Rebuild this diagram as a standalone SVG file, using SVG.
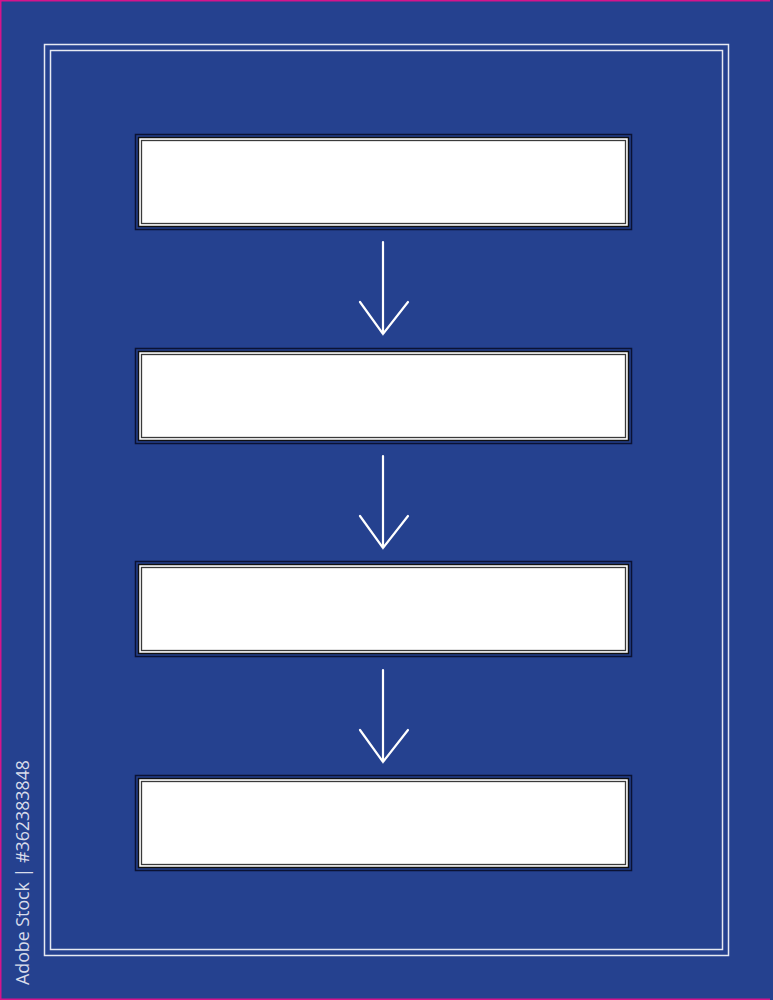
<svg xmlns="http://www.w3.org/2000/svg" width="773" height="1000" viewBox="0 0 773 1000">
<defs>
<style>
.frame{fill:none;stroke:#e6e9f2;stroke-width:1.5}
.b-out{fill:none;stroke:#0b1233;stroke-width:1.5}
.b-mid{fill:#ffffff;stroke:#101010;stroke-width:1.5}
.b-in{fill:#ffffff;stroke:#3a3a3a;stroke-width:1.3}
.arr{fill:none;stroke:#ffffff;stroke-width:2.2;stroke-linecap:round;stroke-linejoin:miter}
.id{font-family:"Open Sans","Liberation Sans",sans-serif;font-size:18px;fill:#d8dcea}
</style>
</defs>
<rect x="0" y="0" width="773" height="1000" fill="#25418f"/>
<path d="M0.75,1000 V0.75 H770 M0,999.25 H770" fill="none" stroke="#d4148c" stroke-width="1.5"/>
<g id="frame">
<rect class="frame" x="44.5" y="44.5" width="684" height="911"/>
<rect class="frame" x="50.5" y="50.5" width="672" height="899"/>
</g>
<g id="node1">
<rect class="b-out" x="135.5" y="134.5" width="496" height="95"/>
<rect class="b-mid" x="138.5" y="137.5" width="490" height="89"/>
<rect class="b-in" x="141.5" y="140.5" width="484" height="83"/>
</g>
<g id="node2">
<rect class="b-out" x="135.5" y="348.5" width="496" height="95"/>
<rect class="b-mid" x="138.5" y="351.5" width="490" height="89"/>
<rect class="b-in" x="141.5" y="354.5" width="484" height="83"/>
</g>
<g id="node3">
<rect class="b-out" x="135.5" y="561.5" width="496" height="95"/>
<rect class="b-mid" x="138.5" y="564.5" width="490" height="89"/>
<rect class="b-in" x="141.5" y="567.5" width="484" height="83"/>
</g>
<g id="node4">
<rect class="b-out" x="135.5" y="775.5" width="496" height="95"/>
<rect class="b-mid" x="138.5" y="778.5" width="490" height="89"/>
<rect class="b-in" x="141.5" y="781.5" width="484" height="83"/>
</g>
<g id="connectors">
<path class="arr" d="M383,242 V334 M360,302 L383,334 L408,302"/>
<path class="arr" d="M383,456 V548 M360,516 L383,548 L408,516"/>
<path class="arr" d="M383,670 V762 M360,730 L383,762 L408,730"/>
</g>
<text class="id" transform="translate(29,985) rotate(-90)" textLength="225" lengthAdjust="spacingAndGlyphs">Adobe Stock | #362383848</text>
</svg>
